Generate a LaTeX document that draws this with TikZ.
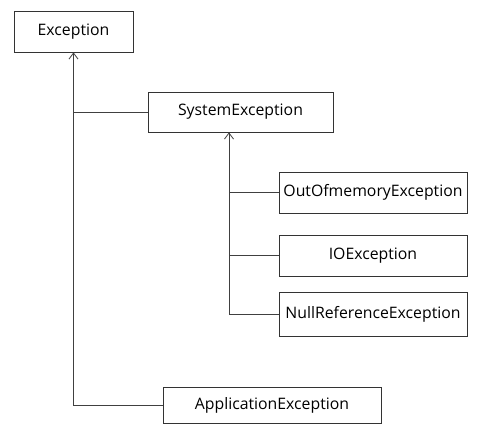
\documentclass[tikz,border=0pt]{standalone}
\usepackage{fontspec}
\setmainfont{Open Sans}
\usepackage{tikz}
\usetikzlibrary{positioning,arrows.meta}

\tikzset{
  cls/.style={draw=black!80, line width=0.8pt, fill=white, inner sep=0pt,
    minimum height=41pt, font=\fontsize{15.8}{18}\selectfont},
  link/.style={draw=black!75, line width=0.8pt},
  arr/.style={link, -{Straight Barb[length=6pt,width=9pt]}}
}

\begin{document}
\begin{tikzpicture}[x=1pt,y=-1pt]
\useasboundingbox (0,0) rectangle (494,430);
% classes
\node[cls, minimum width=119pt] (exc) at (73.5,31.5) {Exception};
\node[cls, minimum width=185pt, minimum height=40pt] (sysexc) at (240.5,112) {SystemException};
\node[cls, minimum width=188pt] (oom) at (373,192.5) {OutOfmemoryException};
\node[cls, minimum width=188pt] (ioexc) at (373,255.5) {IOException};
\node[cls, minimum width=188pt, minimum height=44pt] (nullref) at (373,314) {NullReferenceException};
\node[cls, minimum width=218pt, minimum height=36pt] (appexc) at (272,405) {ApplicationException};
\coordinate (systap) at ([xshift=-11.5pt]sysexc.south);
% inheritance
\draw[arr] (appexc.west) -| (exc.south);
\draw[link] (sysexc.west) -- (sysexc.west -| exc.south);
\draw[arr] (nullref.west) -| (systap);
\draw[link] (oom.west) -- (oom.west -| systap);
\draw[link] (ioexc.west) -- (ioexc.west -| systap);
\end{tikzpicture}
\end{document}
